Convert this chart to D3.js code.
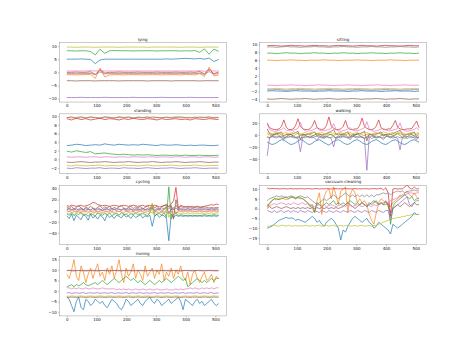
<!DOCTYPE html>
<html><head><meta charset="utf-8">
<script src="https://cdn.jsdelivr.net/npm/d3@7"></script>
<style>body{margin:0;background:#fff}svg{display:block}text{font-family:"DejaVu Sans",sans-serif}</style>
</head><body><svg id="c" width="474" height="355"></svg>
<script>
const colors = ["#1f77b4","#ff7f0e","#2ca02c","#d62728","#9467bd","#8c564b","#e377c2","#7f7f7f","#bcbd22"];
const xTicks = [0,100,200,300,400,500];

// lying (33 samples per series, series in colour order)
const lyBlue=[5.0,5.0,5.0,5.1,5.0,4.9,3.3,4.7,5.0,5.0,5.0,5.0,5.0,5.0,5.0,5.0,5.0,5.0,5.0,5.0,5.0,5.1,5.0,5.1,5.2,5.3,5.2,5.1,5.3,5.0,5.4,4.1,4.9];
const lyOrange=[-0.9,-0.9,-1.0,-0.9,-0.9,-0.8,-2.3,1.6,-1.8,-1.0,-0.9,-0.9,-1.0,-0.9,-0.9,-0.9,-1.0,-0.9,-0.9,-0.9,-1.0,-0.9,-0.9,-0.9,-1.0,-0.8,-0.9,-1.0,-0.5,-1.6,1.9,-1.4,-1.0];
const lyGreen=[8.2,8.2,8.1,8.2,8.2,7.9,6.6,8.8,7.2,8.2,8.3,8.2,8.2,8.2,8.1,8.2,8.2,8.2,8.2,8.1,8.2,8.2,8.2,8.2,8.1,8.2,8.1,8.3,7.6,8.9,6.9,8.8,8.0];
const lyRed=[0.0,0.0,0.1,0.0,0.0,0.2,-0.8,1.0,-0.3,0.0,0.0,0.1,0.0,0.0,0.0,0.1,0.0,0.0,0.0,0.1,0.0,0.0,0.0,0.1,0.0,0.0,0.1,0.0,0.3,-0.6,1.2,-0.5,0.1];
const lyPurple=[-9.6,-9.6,-9.6,-9.5,-9.6,-9.6,-9.6,-9.6,-9.5,-9.6,-9.6,-9.6,-9.6,-9.6,-9.5,-9.6,-9.6,-9.6,-9.6,-9.6,-9.5,-9.6,-9.6,-9.6,-9.6,-9.6,-9.5,-9.6,-9.6,-9.6,-9.6,-9.6,-9.6];
const lyBrown=[-3.2,-3.2,-3.3,-3.2,-3.2,-3.2,-3.3,-3.2,-3.2,-3.2,-3.2,-3.3,-3.2,-3.2,-3.2,-3.2,-3.2,-3.3,-3.2,-3.2,-3.2,-3.2,-3.3,-3.2,-3.2,-3.2,-3.2,-3.2,-3.3,-3.2,-3.2,-3.2,-3.2];
const lyPink=[0.5,0.5,0.5,0.5,0.5,0.6,0.5,0.6,0.5,0.5,0.5,0.5,0.5,0.5,0.5,0.5,0.5,0.5,0.5,0.5,0.5,0.5,0.5,0.5,0.5,0.5,0.5,0.5,0.6,0.4,0.7,0.5,0.5];
const lyGray=[-0.5,-0.5,-0.5,-0.5,-0.5,-0.4,-0.9,0.2,-0.6,-0.5,-0.5,-0.5,-0.5,-0.5,-0.5,-0.5,-0.5,-0.5,-0.5,-0.5,-0.5,-0.5,-0.5,-0.5,-0.5,-0.5,-0.5,-0.5,-0.3,-0.8,0.3,-0.7,-0.5];
const lyOlive=[9.6,9.6,9.5,9.6,9.6,9.6,9.5,9.6,9.6,9.6,9.6,9.5,9.6,9.6,9.6,9.6,9.6,9.5,9.6,9.6,9.6,9.6,9.6,9.6,9.5,9.6,9.6,9.6,9.5,9.6,9.6,9.6,9.6];

// sitting
const siBlue=[-1.9,-1.8,-1.9,-1.9,-2.0,-1.9,-1.8,-1.9,-1.9,-1.9,-2.0,-1.9,-1.9,-1.8,-1.9,-1.9,-1.9,-2.0,-1.9,-1.9,-1.8,-1.9,-1.9,-1.9,-2.0,-1.9,-1.9,-1.8,-1.9,-1.9,-1.9,-2.0,-1.9];
const siOrange=[6.0,6.0,5.9,6.0,6.0,6.1,6.0,6.0,5.9,6.0,6.0,6.0,6.1,6.0,6.0,5.9,6.0,6.0,6.0,6.1,6.0,6.0,5.9,6.0,6.0,6.0,6.1,6.0,6.0,5.9,6.0,6.0,6.0];
const siGreen=[7.8,7.8,7.7,7.8,7.9,7.8,7.8,7.7,7.8,7.8,7.9,7.8,7.8,7.7,7.8,7.8,7.9,7.8,7.8,7.7,7.8,7.8,7.9,7.8,7.8,7.7,7.8,7.8,7.9,7.8,7.8,7.7,7.8];
const siRed=[9.7,9.8,9.7,9.6,9.7,9.8,9.7,9.7,9.6,9.7,9.8,9.7,9.7,9.6,9.7,9.8,9.7,9.7,9.6,9.7,9.8,9.7,9.7,9.6,9.7,9.8,9.7,9.7,9.6,9.7,9.8,9.7,9.7];
const siPurple=[-1.6,-1.6,-1.5,-1.6,-1.7,-1.6,-1.6,-1.5,-1.6,-1.6,-1.7,-1.6,-1.6,-1.5,-1.6,-1.6,-1.7,-1.6,-1.6,-1.5,-1.6,-1.6,-1.7,-1.6,-1.6,-1.5,-1.6,-1.6,-1.7,-1.6,-1.6,-1.5,-1.6];
const siBrown=[-3.9,-4.0,-3.9,-3.8,-3.9,-4.0,-3.9,-3.9,-3.8,-3.9,-4.0,-3.9,-3.9,-3.8,-3.9,-4.0,-3.9,-3.9,-3.8,-3.9,-4.0,-3.9,-3.9,-3.8,-3.9,-4.0,-3.9,-3.9,-3.8,-3.9,-4.0,-3.9,-3.9];
const siPink=[-0.4,-0.4,-0.5,-0.4,-0.4,-0.3,-0.4,-0.4,-0.5,-0.4,-0.4,-0.3,-0.4,-0.4,-0.5,-0.4,-0.4,-0.3,-0.4,-0.4,-0.5,-0.4,-0.4,-0.3,-0.4,-0.4,-0.5,-0.4,-0.4,-0.3,-0.4,-0.4,-0.4];
const siGray=[9.4,9.4,9.3,9.4,9.5,9.4,9.4,9.3,9.4,9.4,9.5,9.4,9.4,9.3,9.4,9.4,9.5,9.4,9.4,9.3,9.4,9.4,9.5,9.4,9.4,9.3,9.4,9.4,9.5,9.4,9.4,9.3,9.4];
const siOlive=[-1.3,-1.3,-1.2,-1.3,-1.4,-1.3,-1.3,-1.2,-1.3,-1.3,-1.4,-1.3,-1.3,-1.2,-1.3,-1.3,-1.4,-1.3,-1.3,-1.2,-1.3,-1.3,-1.4,-1.3,-1.3,-1.2,-1.3,-1.3,-1.4,-1.3,-1.3,-1.2,-1.3];

// standing
const sdBlue=[3.2,3.3,3.5,3.4,3.2,3.3,3.4,3.3,3.6,3.4,3.3,3.5,3.4,3.3,3.4,3.3,3.5,3.4,3.3,3.2,3.4,3.3,3.3,3.4,3.3,3.2,3.3,3.2,3.3,3.3,3.2,3.2,3.3];
const sdOrange=[9.6,9.9,9.4,9.8,9.5,9.9,9.6,9.4,9.8,9.7,9.5,9.9,9.6,9.7,9.4,9.8,9.6,9.9,9.5,9.7,9.6,9.8,9.5,9.7,9.9,9.6,9.5,9.8,9.6,9.7,9.9,9.5,9.7];
const sdGreen=[1.9,1.7,2.0,1.8,1.6,1.8,1.3,1.4,1.5,1.3,1.2,1.1,1.2,1.1,1.0,1.1,1.0,1.1,1.0,0.9,1.0,1.0,0.9,1.0,0.9,1.0,0.9,0.9,1.0,0.9,0.9,0.9,1.0];
const sdRed=[9.4,9.1,9.5,9.2,9.4,9.1,9.3,9.5,9.2,9.4,9.3,9.1,9.4,9.2,9.5,9.3,9.2,9.4,9.3,9.1,9.4,9.2,9.3,9.4,9.2,9.3,9.1,9.4,9.3,9.2,9.4,9.3,9.2];
const sdPurple=[-2.0,-2.1,-1.9,-2.0,-2.1,-2.0,-2.0,-1.9,-2.1,-2.0,-2.0,-2.1,-1.9,-2.0,-2.0,-2.1,-2.0,-1.9,-2.0,-2.1,-2.0,-2.0,-1.9,-2.0,-2.1,-2.0,-2.0,-1.9,-2.0,-2.1,-2.0,-2.0,-2.0];
const sdBrown=[-0.6,-0.7,-0.6,-0.5,-0.6,-0.7,-0.6,-0.6,-0.5,-0.6,-0.7,-0.6,-0.6,-0.5,-0.6,-0.7,-0.6,-0.6,-0.5,-0.6,-0.7,-0.6,-0.6,-0.5,-0.6,-0.7,-0.6,-0.6,-0.5,-0.6,-0.7,-0.6,-0.6];
const sdPink=[0.6,0.5,0.6,0.6,0.5,0.6,0.6,0.5,0.6,0.6,0.5,0.6,0.6,0.5,0.6,0.6,0.5,0.6,0.6,0.5,0.6,0.6,0.5,0.6,0.6,0.5,0.6,0.6,0.5,0.6,0.6,0.5,0.6];
const sdGray=[9.7,9.6,9.7,9.8,9.6,9.7,9.7,9.6,9.8,9.7,9.6,9.7,9.7,9.8,9.6,9.7,9.7,9.6,9.8,9.7,9.6,9.7,9.7,9.8,9.6,9.7,9.7,9.6,9.8,9.7,9.6,9.7,9.7];
const sdOlive=[-1.4,-1.5,-1.3,-1.4,-1.5,-1.4,-1.4,-1.3,-1.5,-1.4,-1.4,-1.5,-1.3,-1.4,-1.4,-1.5,-1.4,-1.3,-1.4,-1.5,-1.4,-1.4,-1.3,-1.4,-1.5,-1.4,-1.4,-1.3,-1.4,-1.5,-1.4,-1.4,-1.4];

// walking (65 samples per series)
const wkBlue=[-12,-14,-16,-15,-13,-10,-8,-9,-11,-14,-16,-15,-13,-10,-8,-9,-12,-15,-16,-14,-11,-9,-8,-10,-13,-15,-17,-14,-11,-9,-8,-10,-13,-15,-16,-14,-11,-9,-8,-10,-13,-15,-16,-14,-11,-9,-8,-10,-13,-15,-16,-14,-11,-9,-8,-10,-13,-15,-16,-14,-11,-9,-8,-10,-12];
const wkOrange=[2,0,-2,1,3,2,0,-1,1,2,0,-2,1,3,1,-1,0,2,1,-1,0,3,2,0,-2,1,2,0,-1,1,3,1,-1,0,2,1,-2,0,3,2,0,-1,1,2,0,-2,1,3,1,-1,0,2,1,-1,0,3,2,0,-2,1,2,0,-1,1,2];
const wkGreen=[-3,-5,-2,0,2,-1,-4,-6,-3,0,1,-2,-5,-4,-1,1,0,-3,-5,-2,0,2,-1,-4,-6,-3,0,1,-2,-5,-4,-1,1,0,-3,-5,-2,0,2,-1,-4,-6,-3,0,1,-2,-5,-4,-1,1,0,-3,-5,-2,0,2,-1,-4,-6,-3,0,1,-2,-5,-3];
const wkRed=[20,12,10,9,9,10,14,25,13,9,9,10,16,27,14,10,9,9,10,15,24,12,10,9,10,16,30,15,11,9,9,10,14,24,12,9,9,10,10,16,28,14,11,9,9,10,15,25,12,9,9,10,10,16,24,13,10,9,9,10,10,11,17,23,12];
const wkPurple=[-35,-4,-2,-3,-2,-3,-5,-8,-3,-2,-3,-2,-4,-6,-28,-4,-2,-3,-2,-3,-5,-9,-3,-2,-3,-2,-4,-6,-20,-4,-2,-3,-2,-3,-5,-8,-3,-2,-3,-2,-4,-6,-59,-4,-2,-3,-2,-3,-5,-8,-3,-2,-3,-2,-4,-6,-25,-4,-2,-3,-2,-3,-5,-8,-3];
const wkBrown=[10,2,0,1,2,3,5,-3,1,0,1,2,4,6,-8,1,0,1,2,3,5,-2,1,0,1,2,4,6,9,1,0,1,2,3,5,-3,1,0,1,2,4,6,-10,1,0,1,2,3,5,-2,1,0,1,2,4,6,8,1,0,1,2,3,5,-3,1];
const wkPink=[18,9,7,6,7,8,9,12,8,7,7,8,9,11,21,10,7,6,7,8,10,12,8,7,7,8,9,11,19,9,7,6,7,8,10,12,8,7,7,8,10,12,22,10,7,6,7,8,10,11,8,7,7,8,9,11,20,9,7,6,7,8,9,12,8];
const wkGray=[-4,-5,-3,-4,-5,-3,-2,-4,-5,-4,-3,-5,-4,-3,-6,-4,-5,-3,-4,-5,-3,-2,-4,-5,-4,-3,-5,-4,-3,-6,-4,-5,-3,-4,-5,-3,-2,-4,-5,-4,-3,-5,-4,-3,-6,-4,-5,-3,-4,-5,-3,-2,-4,-5,-4,-3,-5,-4,-3,-6,-4,-5,-3,-4,-5];
const wkOlive=[3,4,2,3,5,4,2,3,4,2,3,5,4,2,1,3,4,2,3,5,4,2,3,4,2,3,5,4,2,1,3,4,2,3,5,4,2,3,4,2,3,5,4,2,1,3,4,2,3,5,4,2,3,4,2,3,5,4,2,1,3,4,2,3,4];

// cycling
const cyBlue=[-9,-14,-6,-18,-8,-12,-16,-7,-10,-17,-6,-13,-9,-15,-8,-11,-18,-7,-12,-9,-14,-8,-10,-13,-7,-11,-9,-14,-8,-12,-10,-7,-13,-9,-11,-8,-28,-10,-6,-12,-8,-9,-14,-54,-6,-12,-8,-10,-9,-10,-9,-10,-9,-10,-9,-10,-9,-10,-9,-10,-9,-10,-9,-10,-9];
const cyOrange=[1,-2,3,0,-3,2,-1,1,-2,3,0,-1,2,-3,1,0,2,-2,1,-1,3,0,-2,1,2,-1,0,3,-2,1,0,2,-1,1,3,0,12,-4,2,1,-3,4,8,-6,3,6,-5,2,1,0,1,0,1,0,-1,0,1,0,-1,0,1,0,1,0,0];
const cyGreen=[-6,-8,-4,-9,-5,-7,-3,-8,-6,-10,-5,-7,-9,-4,-6,-8,-5,-7,-4,-9,-6,-5,-8,-4,-7,-6,-9,-5,-7,-4,-8,-6,-5,-7,-9,-4,6,-10,-6,-5,-8,-3,-12,43,-15,-6,-4,-9,-7,-8,-9,-8,-9,-8,-9,-8,-9,-8,-7,-8,-9,-8,-7,-8,-8];
const cyRed=[9,8,10,9,8,9,10,8,9,10,12,15,14,11,10,9,10,9,8,9,10,9,8,9,10,9,8,9,10,9,8,9,10,8,9,10,8,10,9,7,8,10,9,8,12,18,42,5,10,8,7,8,7,8,6,7,6,7,8,9,10,11,10,12,11];
const cyPurple=[2,3,1,2,4,1,3,2,1,3,2,4,1,2,3,1,2,4,1,3,2,1,3,2,4,1,2,3,1,2,4,1,3,2,1,3,5,0,2,3,1,2,6,-4,3,2,5,1,2,3,2,3,2,3,2,3,2,3,2,3,2,3,2,3,2];
const cyBrown=[7,4,8,3,6,9,5,2,7,4,8,5,3,6,9,4,7,5,8,3,6,4,7,9,5,3,6,8,4,7,5,8,3,6,9,4,10,5,8,3,7,9,12,6,10,-15,20,2,8,6,7,6,7,6,7,8,7,6,7,6,5,6,5,6,6];
const cyPink=[-2,-1,-3,-2,-1,-2,-3,-1,-2,-2,-1,-3,-2,-1,-2,-3,-1,-2,-2,-1,-3,-2,-1,-2,-3,-1,-2,-2,-1,-3,-2,-1,-2,-3,-1,-2,-4,-1,-2,-3,-1,-2,-3,-5,-1,-2,-4,-2,-1,-2,-1,-2,-1,-2,-1,-2,-1,-2,-1,-2,-1,-2,-1,-2,-1];
const cyGray=[3,5,2,4,1,3,5,2,4,3,1,4,2,5,3,1,4,2,3,5,2,4,3,1,4,2,5,3,1,4,2,3,5,2,4,3,6,2,4,3,5,4,6,3,8,2,10,3,4,3,3,4,3,4,3,3,4,3,4,3,3,4,3,4,3];
const cyOlive=[-4,-6,-3,-7,-5,-2,-6,-4,-8,-3,-5,-7,-2,-6,-4,-5,-3,-7,-5,-2,-6,-4,-8,-3,-5,-7,-2,-6,-4,-5,-3,-7,-5,-2,-6,-4,14,-8,-3,-5,-2,-6,5,-12,-2,-6,-3,-4,-5,-4,-5,-4,-5,-4,-5,-4,-5,-4,-5,-4,-5,-4,-5,-4,-4];

// vaccuum cleaning
const vcBlue=[-10,-9.5,-9,-8,-7,-6,-5.5,-5,-4.5,-5,-4.8,-5,-6,-5.5,-6,-6.5,-7,-6,-5,-4,-5,-7,-6,-8,-9,-7,-6,-5,-6,-8,-10,-16,-11,-12,-9,-7,-5,-4,-5,-6,-7,-6,-5,-7,-8,-10,-9,-7,-8,-9,-10,-11,-13,-8,-9,-10,-9,-8,-7,-6,-5,-4,-2,-3,-3];
const vcOrange=[0,2,4,5,4.5,5,5.5,5,4.5,5,5.5,6,5,5.5,5,5,4,3,2,0,-2,4,8,-3,6,9,10,5,11,7,2,9,10,11,-2,7,10,8,3,5,3,4,2,-3,-6,-8,-2,3,5,4,3,2,1,3,4,5,7,6,8,9,7,6,8,6,5];
const vcGreen=[1,3,4,5,5,4.5,5,5.5,6,5,6,5.5,5,6,5.5,5,4,3,1,2,-2,3,2,1,2,3,2,3,4,2,3,2,3,2,3,4,3,2,3,2,3,2,1,3,2,3,4,2,3,2,2,3,-8,1,3,4,5,6,7,6,5,6,4,5,5];
const vcRed=[10.5,10,10.3,10.1,10.2,10,10.1,10.2,10,10.1,10.2,10,10.1,10,10.2,10.1,10,10.2,10.1,10,10.1,10.2,10,10.1,10,10.2,10.1,10,10.1,10.2,10,10.1,10,10.2,10.1,10,10.1,10.2,10,10.1,10,10.2,10.1,10,10.1,10.2,10,10.1,10.4,9.5,10.6,8,-4,10,10.2,10,10.1,10,11,12,10.5,9.8,11,10,10.2];
const vcPurple=[-1,-1.5,-2,-1,-2,-1.5,-1,-2,-1.5,-1,-2,-1,-1.5,-2,-1,-1.5,-2,-1,-1.5,-2,-1,-1.5,-2,-1,-1.5,-2,-1,-1.5,-2,-1,-1.5,-2,-1,-1.5,-2,-1,-1.5,-2,-1,-1.5,-2,-1,-1.5,-2,-1,-1.5,-2,-1,-1.5,-2,-1,-1,-6,0,1,2,3,4,5,6,2,1,3,4,4];
const vcBrown=[2,1,0,0.5,1,0.5,0,0.5,1,0.5,0,0.5,0,0.5,0,0.5,0,0.5,0,0.5,0,0.5,0,0.5,0,0.5,0,0.5,0,0.5,0,0.5,1,2,3,2,1,0,1,2,3,2,1,2,3,4,3,2,3,2,4,1,-2,0,1,2,1,2,3,2,1,2,3,2,2];
const vcPink=[0,1,2,2.5,2,2.5,3,2.5,2,2.5,2,3,2.5,2,2.5,3,2,2.5,2,1.5,1,1.5,2,1.5,2,1,1.5,2,1.5,1,1.5,2,1.5,1,2,1.5,1,1.5,2,1.5,1,1.5,2,1.5,1,2,1.5,2,2.5,3,3.5,3,4,4.5,5,5.5,6,7,7,7.5,8,8,7.5,8,8];
const vcGray=[4,5,5.5,6,6.5,6,6.5,6,5.5,6,6.5,6,5.5,6,6.5,6,5.5,6,5,4,3,2,3,4,5,4,5,6,7,6,5,6,7,8,7,6,7,6,7,6,7,6,7,6,7,6,7,7,7.5,8,7.5,8,7,8,8.5,9,8.5,9,8,8.5,9,9,9.5,9,9];
const vcOlive=[-9,-9,-8.5,-8.5,-8.8,-9,-8.5,-8.7,-9,-8.5,-8.8,-9,-8.6,-9,-8.7,-9,-8.5,-8.8,-9,-8.6,-9,-8.7,-8.5,-9,-8.8,-8.6,-9,-8.7,-8.5,-9,-8.8,-8.6,-9,-8.7,-8.5,-9,-8.8,-8.6,-9,-8.7,-8.5,-9,-8.8,-8.6,-9,-8.7,-8.5,-8,-7.5,-7,-6.5,-6,-5.5,-5,-5,-4.5,-4.5,-4,-4,-3.5,-3.5,-3,-3,-3,-3];

// ironing
const irBlue=[-3,-4,-7,-10,-5,-3,-8,-9,-4,-5,-7,-6,-4,-5,-6,-5,-7,-8,-6,-4,-5,-6,-8,-9,-7,-4,-5,-7,-6,-5,-4,-6,-7,-5,-4,-3,-5,-6,-4,-5,-7,-6,-5,-4,-6,-5,-4,-3,-5,-9,-4,-5,-6,-7,-5,-4,-6,-5,-7,-6,-5,-4,-6,-7,-6];
const irOrange=[8,6,10,15,7,5,12,9,4,8,11,6,10,13,7,9,5,11,8,12,6,10,15,8,4,11,7,9,13,6,10,8,5,12,7,9,11,6,10,8,13,5,9,7,11,6,10,8,12,7,5,9,3,8,10,6,4,7,9,5,6,8,4,7,6];
const irGreen=[2,2.5,3,2,3,2.5,3,4,3,2.5,3,3.5,4,3,4,5,4,3,4,5,6,5,4,5,6,7,6,5,6,5,4,5,4,3,4,5,4,3,4,5,4,5,6,5,4,5,6,7,6,5,6,2,3,4,5,6,5,4,5,4,5,6,5,6,6];
const irRed=[9.7,9.8,9.7,9.6,9.7,9.8,9.7,9.7,9.6,9.7,9.8,9.7,9.7,9.6,9.7,9.8,9.7,9.7,9.6,9.7,9.8,9.7,9.7,9.6,9.7,9.8,9.7,9.7,9.6,9.7,9.8,9.7,9.7,9.6,9.7,9.8,9.7,9.7,9.6,9.7,9.8,9.7,9.7,9.6,9.7,9.8,9.7,9.7,9.6,9.7,9.8,9.7,9.7,9.6,9.7,9.8,9.7,9.7,9.6,9.7,9.8,9.7,9.7,9.6,9.7];
const irPurple=[-1,-0.8,-1.2,-1,-0.9,-1.1,-1,-0.8,-1.2,-1,-0.9,-1.1,-1,-0.8,-1.2,-1,-0.9,-1.1,-1,-0.8,-1.2,-1,-0.9,-1.1,-1,-0.8,-1.2,-1,-0.9,-1.1,-1,-0.8,-1.2,-1,-0.9,-1.1,-1,-0.8,-1.2,-1,-0.9,-1.1,-1,-0.8,-1.2,-1,-0.9,-1.1,-1,-0.8,-1.2,-1,-0.9,-1.1,-1,-0.8,-1.2,-1,-0.9,-1.1,-1,-0.8,-1.2,-1,-1];
const irBrown=[-3,-3.1,-2.9,-3,-3.1,-3,-2.9,-3,-3.1,-3,-2.9,-3,-3.1,-3,-2.9,-3,-3.1,-3,-2.9,-3,-3.1,-3,-2.9,-3,-3.1,-3,-2.9,-3,-3.1,-3,-2.9,-3,-3.1,-3,-2.9,-3,-3.1,-3,-2.9,-3,-3.1,-3,-2.9,-3,-3.1,-3,-2.9,-3,-3.1,-3,-2.9,-3,-3.1,-3,-2.9,-3,-3.1,-3,-2.9,-3,-3.1,-3,-2.9,-3,-3];
const irPink=[1.5,1.5,1,1.5,1,1.5,1,1,1.5,1,1,1.5,1,1,1,1.5,1,1,1,1,1,0.5,1,0.5,1,0.5,1,0.5,0.5,1,0.5,0.5,1,0.5,0.5,1,0.5,0.5,1,0.5,0.5,0.5,1,0.5,0.5,0.5,1,0.5,1,0.5,1,1,1.5,1,1.5,1,1,1.5,1,1.5,1,1.5,1,1.5,1.5];
const irGray=[9.8,9.9,9.8,9.9,9.8,9.8,9.9,9.8,9.9,9.8,9.8,9.9,9.8,9.9,9.8,9.8,9.9,9.8,9.9,9.8,9.8,9.9,9.8,9.9,9.8,9.8,9.9,9.8,9.9,9.8,9.8,9.9,9.8,9.9,9.8,9.8,9.9,9.8,9.9,9.8,9.8,9.9,9.8,9.9,9.8,9.8,9.9,9.8,9.9,9.8,9.8,9.9,9.8,9.9,9.8,9.8,9.9,9.8,9.9,9.8,9.8,9.9,9.8,9.9,9.8];
const irOlive=[-2.5,-2.6,-2.4,-2.5,-2.6,-2.5,-2.4,-2.5,-2.6,-2.5,-2.4,-2.5,-2.6,-2.5,-2.4,-2.5,-2.6,-2.5,-2.4,-2.5,-2.6,-2.5,-2.4,-2.5,-2.6,-2.5,-2.4,-2.5,-2.6,-2.5,-2.4,-2.5,-2.6,-2.5,-2.4,-2.5,-2.6,-2.5,-2.4,-2.5,-2.6,-2.5,-2.4,-2.5,-2.6,-2.5,-2.4,-2.5,-2.6,-2.5,-2.4,-2.5,-2.6,-2.5,-2.4,-2.5,-2.6,-2.5,-2.4,-2.5,-2.6,-2.5,-2.4,-2.5,-2.5];

const titles = ["lying","sitting","standing","walking","cycling","vaccuum cleaning","ironing"];
const seriesSets = [
  [lyBlue,lyOrange,lyGreen,lyRed,lyPurple,lyBrown,lyPink,lyGray,lyOlive],
  [siBlue,siOrange,siGreen,siRed,siPurple,siBrown,siPink,siGray,siOlive],
  [sdBlue,sdOrange,sdGreen,sdRed,sdPurple,sdBrown,sdPink,sdGray,sdOlive],
  [wkBlue,wkOrange,wkGreen,wkRed,wkPurple,wkBrown,wkPink,wkGray,wkOlive],
  [cyBlue,cyOrange,cyGreen,cyRed,cyPurple,cyBrown,cyPink,cyGray,cyOlive],
  [vcBlue,vcOrange,vcGreen,vcRed,vcPurple,vcBrown,vcPink,vcGray,vcOlive],
  [irBlue,irOrange,irGreen,irRed,irPurple,irBrown,irPink,irGray,irOlive]
];
const yDomains = [[-11.3,11.3],[-4.7,10.5],[-3.2,10.5],[-64,35],[-61,46],[-18.4,11.9],[-12,16.5]];
const yTickSets = [[-10,-5,0,5,10],[-4,-2,0,2,4,6,8,10],[-2,0,2,4,6,8,10],[-40,-20,0,20],[-40,-20,0,20,40],[-15,-10,-5,0,5,10],[-10,-5,0,5,10,15]];

const FW=474,FH=355;
const padL=0.125*FW, padR=0.9*FW, padT=0.12*FH, padB=0.89*FH;
const aw=(padR-padL)/2.2, ah=(padB-padT)/4.6;
const svg=d3.select("#c");
const fs=4.0;

titles.forEach((t,k)=>{
  const col=k%2,row=Math.floor(k/2);
  const x0=padL+col*aw*1.2, y0=padT+row*ah*1.2;
  const g=svg.append("g").attr("transform",`translate(${x0},${y0})`);
  const x=d3.scaleLinear().domain([-25.55,536.55]).range([0,aw]);
  const y=d3.scaleLinear().domain(yDomains[k]).range([ah,0]);
  const clip="clip"+k;
  g.append("clipPath").attr("id",clip).append("rect").attr("width",aw).attr("height",ah);
  const lg=g.append("g").attr("clip-path",`url(#${clip})`);
  seriesSets[k].forEach((s,j)=>{
    const step=511/(s.length-1);
    const line=d3.line().x((d,i)=>x(i*step)).y(d=>y(d));
    lg.append("path").attr("d",line(s)).attr("fill","none").attr("stroke",colors[j]).attr("stroke-width",0.7).attr("stroke-linejoin","round");
  });
  const xa=g.append("g").attr("transform",`translate(0,${ah})`).call(d3.axisBottom(x).tickValues(xTicks).tickSize(1.2).tickPadding(1.2));
  const ya=g.append("g").call(d3.axisLeft(y).tickValues(yTickSets[k]).tickSize(1.2).tickPadding(1.2));
  [xa,ya].forEach(a=>{a.select(".domain").remove();a.selectAll("line").attr("stroke","#333").attr("stroke-width",0.3);a.selectAll("text").attr("font-size",fs).attr("fill","#111").attr("font-family","DejaVu Sans");});
  g.append("rect").attr("width",aw).attr("height",ah).attr("fill","none").attr("stroke","#555").attr("stroke-width",0.3);
  g.append("text").attr("x",aw/2).attr("y",-2).attr("text-anchor","middle").attr("font-size",fs).attr("fill","#111").text(t);
});
</script></body></html>
